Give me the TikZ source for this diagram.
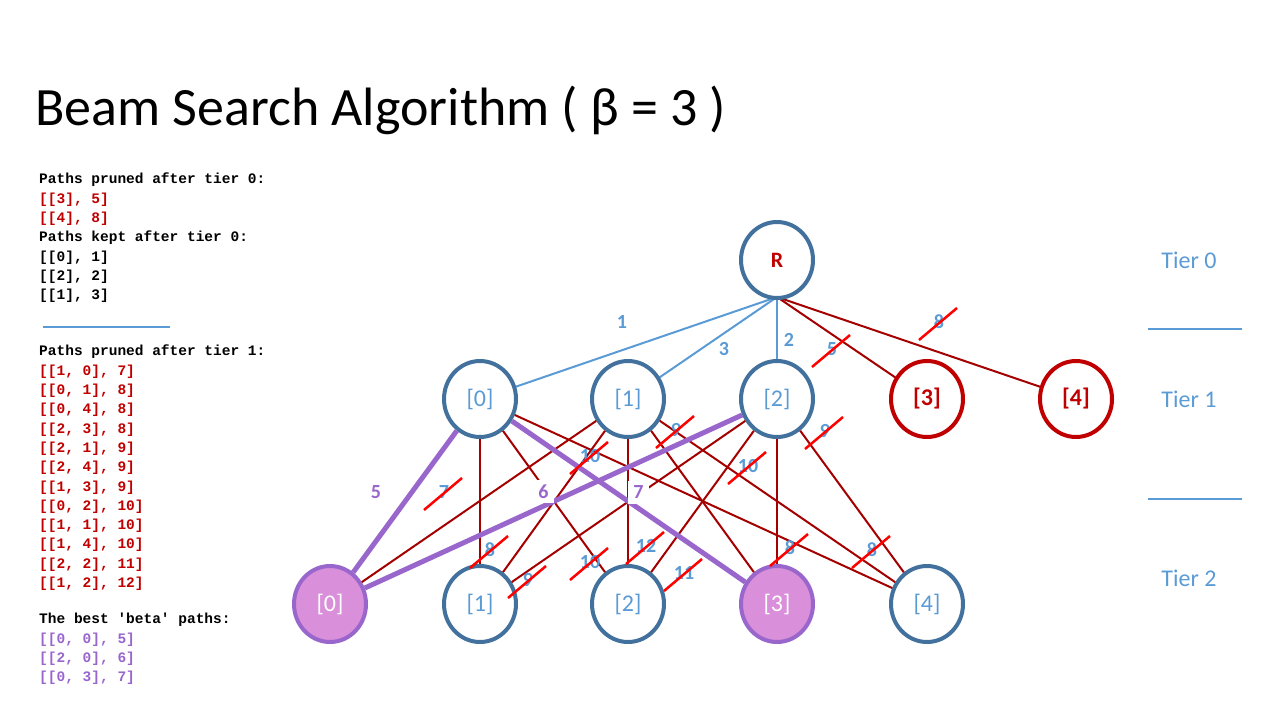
\documentclass[tikz,border=0pt]{standalone}
\usepackage{fontspec}
\setmainfont{Carlito}
\newfontfamily\codefont{Liberation Mono}
\usetikzlibrary{positioning}
\usetikzlibrary{shapes.geometric}
\definecolor{ringblue}{HTML}{41719C}
\definecolor{textblue}{HTML}{5B9BD5}
\definecolor{prunered}{HTML}{A50000}
\definecolor{nodered}{HTML}{C00000}
\definecolor{beampurple}{HTML}{9966CC}
\definecolor{beamfill}{HTML}{D98FD9}
\begin{document}
\begin{tikzpicture}[ x = 1pt, y = -1pt
                   , font = \fontsize{24}{28}\selectfont
                   , every node/.style = { inner sep = 1pt }
                   ]

  %%
  %% Styles
  %%
  \tikzset{ state/.style = { ellipse, draw = ringblue, line width = 4pt, fill = white
                           , minimum width = 72pt, minimum height = 76pt
                           , text = textblue }
          , dead/.style = { state, draw = nodered, text = nodered, font = \fontsize{24}{28}\bfseries }
          , best/.style = { state, draw = beampurple, fill = beamfill, text = white }
          , keep/.style = { draw = textblue, line width = 2pt }
          , prune/.style = { draw = prunered, line width = 2pt }
          , beam/.style = { draw = beampurple, line width = 5pt }
          , cost/.style = { text = textblue, font = \fontsize{20}{24}\bfseries }
          , bestcost/.style = { cost, text = beampurple, fill = white, inner sep = 5pt }
          , slash/.style = { draw = red, line width = 2.5pt }
          , tier/.style = { text = textblue, font = \fontsize{24}{28}\selectfont }
          , rule/.style = { draw = textblue, line width = 2pt }
          , listing/.style = { anchor = north west, align = left
                             , font = \codefont\bfseries\fontsize{14.5}{19.3}\selectfont }
          }

  \useasboundingbox (0,0) rectangle (1280,720);

  \node (title) [anchor = west, font = \fontsize{54}{60}\selectfont] at (34,110)
        {Beam Search Algorithm ( β = 3 )};

  %%
  %% Tier 0 edges (end points first, nodes on top)
  %%
  \coordinate (rs) at (777,297);
  \draw[keep] (rs) -- (480,399);
  \draw[keep] (rs) -- (628,399);
  \draw[keep] (rs) -- (777,399);
  \draw[prune] (rs) -- (927,399);
  \draw[prune] (rs) -- (1076,399);

  %%
  %% Nodes
  %%
  \node (r) [state, text = nodered, font = \fontsize{22}{26}\bfseries] at (777,260) {R};
  \node (a0) [state] at (480,399) {[0]};
  \node (a1) [state] at (628,399) {[1]};
  \node (a2) [state] at (777,399) {[2]};
  \node (a3) [dead] at (927,399) {[3]};
  \node (a4) [dead] at (1076,399) {[4]};
  \node (b0) [best] at (330,604) {[0]};
  \node (b1) [state] at (480,604) {[1]};
  \node (b2) [state] at (628,604) {[2]};
  \node (b3) [best] at (777,604) {[3]};
  \node (b4) [state] at (927,604) {[4]};

  %%
  %% Tier 1 edges (pruned)
  %%
  \foreach \s/\t in {a1/b0, a0/b1, a0/b4, a2/b3, a2/b1, a2/b4, a1/b3,
                     a0/b2, a1/b1, a1/b4, a2/b2, a1/b2}
    \draw[prune] (\s) -- (\t);

  %%
  %% Best paths
  %%
  \draw[beam] (a0) -- (b0);
  \draw[beam] (a2) -- node[bestcost, pos = 0.5, xshift = -10pt, yshift = 10pt] (c6) {6} (b0);
  \draw[beam] (a0) -- node[bestcost, pos = 0.5, xshift = 10pt, yshift = 9pt] (c7) {7} (b3);

  %%
  %% Costs
  %%
  \node (c01) [cost] at (622,322) {1};
  \node (c03) [cost] at (724,349) {3};
  \node (c02) [cost] at (789,340) {2};
  \node (c05) [cost] at (832,349) {5};
  \node (c08) [cost] at (939,322) {8};
  \node (c5) [cost, text = beampurple] at (376,492) {5};
  \foreach \x/\y/\c in {444/492/7, 590/456/10, 676/430/9, 748/466/10, 825/431/9,
                        490/550/8, 528/580/9, 590/562/10, 646/546/12, 684/573/11,
                        790/548/8, 872/550/8}
    \node[cost] at (\x,\y) {\c};
  \foreach \x/\y in {832/349, 939/322, 444/492, 590/456, 676/430, 748/466, 825/431,
                     490/550, 528/580, 590/562, 646/546, 684/573, 790/548, 872/550}
    \draw[slash] (\x-20,\y+18) -- (\x+18,\y-14);

  %%
  %% Tiers
  %%
  \node (t0) [tier] at (1189,260) {Tier 0};
  \node (t1) [tier] at (1189,399) {Tier 1};
  \node (t2) [tier] at (1189,578) {Tier 2};
  \draw[rule] (1148,329) -- (1242,329);
  \draw[rule] (1148,499) -- (1242,499);

  %%
  %% Listing
  %%
  \node (pruned0) [listing] at (38,172)
        {Paths pruned after tier 0:\\
         \textcolor{nodered}{[[3], 5]}\\
         \textcolor{nodered}{[[4], 8]}\\
         Paths kept after tier 0:\\
         {}[[0], 1]\\
         {}[[2], 2]\\
         {}[[1], 3]};
  \draw[rule] (43,327) -- (170,327);
  \node (pruned1) [listing, text = nodered] at (38,344)
        {\textcolor{black}{Paths pruned after tier 1:}\\
         {}[[1, 0], 7]\\ {}[[0, 1], 8]\\ {}[[0, 4], 8]\\ {}[[2, 3], 8]\\
         {}[[2, 1], 9]\\ {}[[2, 4], 9]\\ {}[[1, 3], 9]\\ {}[[0, 2], 10]\\
         {}[[1, 1], 10]\\ {}[[1, 4], 10]\\ {}[[2, 2], 11]\\ {}[[1, 2], 12]};
  \node (bestlist) [listing, text = beampurple] at (38,612)
        {\textcolor{black}{The best 'beta' paths:}\\
         {}[[0, 0], 5]\\ {}[[2, 0], 6]\\ {}[[0, 3], 7]};
\end{tikzpicture}
\end{document}
